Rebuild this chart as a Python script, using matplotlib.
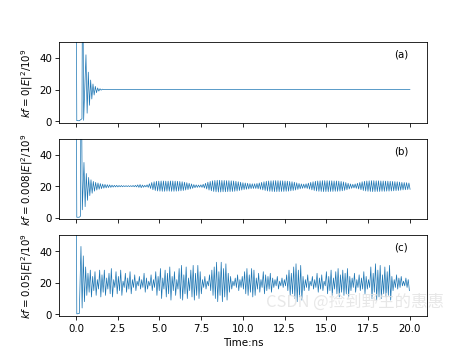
import numpy as np
import matplotlib
matplotlib.use("Agg")
import matplotlib.pyplot as plt

# ---- panel (a): kf = 0, relaxation oscillation that settles to 20
t_a = [0, 0.05, 0.2, 0.36, 0.40, 0.46, 0.60, 0.67, 0.74, 0.81, 0.88, 0.95, 1.02,
       1.09, 1.16, 1.23, 1.30, 1.37, 1.44, 1.51, 1.58, 1.65, 20]
y_a = [150, 0.3, 0.2, 1.5, 120, 0.5, 42, 5, 31, 10, 26, 14, 23.5,
       16.5, 22, 18, 21, 19, 20.5, 19.6, 20.2, 20, 20]

# ---- panel (b): kf = 0.008
b_head_t = [0, 0.05, 0.2, 0.27, 0.31, 0.38]
b_head_y = [150, 0.3, 0.3, 1, 120, 5]
b_start = 0.48          # first peak after the spike
b_period = 0.14
b_peaks = [35, 28, 25.5, 24, 23, 22.4, 22, 21.6, 21.3, 21.1,
           20.9, 20.8, 20.6, 20.5, 20.5, 20.4, 20.4, 20.3, 20.3, 20.3,
           20.3, 20.4, 20.5, 20.8, 21.0, 20.7, 20.5, 20.8, 21.5, 22.3,
           22.8, 23.1, 23.2, 23.3, 23.3, 23.2, 23.2, 23.3, 23.3, 23.2,
           23.1, 23.0, 22.8, 22.5, 22.2, 21.8, 21.4, 21.0, 20.8, 20.7,
           20.8, 21.2, 21.8, 22.5, 23.0, 23.4, 23.6, 23.7, 23.7, 23.6,
           23.6, 23.5, 23.5, 23.4, 23.3, 23.1, 22.8, 22.5, 22.2, 22.0,
           21.8, 21.6, 21.5, 21.5, 21.7, 22.0, 22.4, 22.8, 23.1, 23.3,
           23.4, 23.5, 23.5, 23.5, 23.4, 23.4, 23.3, 23.2, 23.0, 22.8,
           22.5, 22.1, 21.7, 21.4, 21.3, 21.5, 21.9, 22.4, 22.8, 23.1,
           23.3, 23.4, 23.5, 23.5, 23.5, 23.4, 23.4, 23.3, 23.3, 23.2,
           23.0, 22.7, 22.3, 21.8, 21.4, 21.2, 21.4, 21.8, 22.3, 22.8,
           23.1, 23.3, 23.4, 23.5, 23.5, 23.4, 23.4, 23.3, 23.3, 23.2,
           23.2, 23.1, 23.0, 22.9, 22.8, 22.6, 22.4, 22.3, 22.2, 22.0]
b_troughs = [7, 11, 14, 15.5, 16.8, 17.5, 18, 18.4, 18.7, 18.9,
             19.1, 19.2, 19.4, 19.5, 19.5, 19.6, 19.6, 19.7, 19.7, 19.7,
             19.7, 19.6, 19.5, 19.2, 19.0, 19.3, 19.5, 19.2, 18.5, 17.7,
             17.2, 16.9, 16.8, 16.7, 16.7, 16.8, 16.8, 16.7, 16.7, 16.8,
             16.9, 17.0, 17.2, 17.5, 17.8, 18.2, 18.6, 19.0, 19.2, 19.3,
             19.2, 18.8, 18.2, 17.5, 17.0, 16.6, 16.4, 16.3, 16.3, 16.4,
             16.4, 16.5, 16.5, 16.6, 16.7, 16.9, 17.2, 17.5, 17.8, 18.0,
             18.2, 18.4, 18.5, 18.5, 18.3, 18.0, 17.6, 17.2, 16.9, 16.7,
             16.6, 16.5, 16.5, 16.5, 16.6, 16.6, 16.7, 16.8, 17.0, 17.2,
             17.5, 17.9, 18.3, 18.6, 18.7, 18.5, 18.1, 17.6, 17.2, 16.9,
             16.7, 16.6, 16.5, 16.5, 16.5, 16.6, 16.6, 16.7, 16.7, 16.8,
             17.0, 17.3, 17.7, 18.2, 18.6, 18.8, 18.6, 18.2, 17.7, 17.2,
             16.9, 16.7, 16.6, 16.5, 16.5, 16.6, 16.6, 16.7, 16.7, 16.8,
             16.8, 16.9, 17.0, 17.1, 17.2, 17.4, 17.6, 17.7, 17.8, 18.0]

# ---- panel (c): kf = 0.05, irregular oscillation
c_head_t = [0, 0.05, 0.2]
c_head_y = [150, 0.3, 0.5]
c_start = 0.30
c_period = 0.14
c_peaks = [43, 37, 30, 26, 28, 24, 27, 22, 28, 25,
           28, 23, 26, 29, 22, 27, 24, 28, 21, 26,
           23, 27, 22, 25, 21, 24, 22, 26, 23, 21,
           25, 22, 27, 24, 29, 23, 28, 26, 30, 24,
           27, 22, 29, 31, 25, 30, 23, 28, 31, 26,
           31, 27, 22, 24, 21, 25, 28, 30, 33, 27,
           33, 29, 32, 26, 24, 21, 23, 25, 22, 24,
           27, 29, 25, 29, 28, 23, 26, 22, 27, 25,
           24, 26, 23, 22, 24, 21, 23, 22, 25, 28,
           26, 30, 32, 28, 31, 24, 22, 25, 21, 24,
           22, 26, 23, 25, 21, 27, 24, 28, 23, 27,
           29, 25, 28, 26, 29, 24, 23, 26, 22, 25,
           23, 27, 24, 22, 30, 26, 32, 28, 31, 25,
           30, 27, 31, 24, 22, 25, 23, 24, 21, 23, 22]
c_troughs = [4, 8, 12, 14, 11, 15, 12, 16, 11, 14,
             12, 16, 13, 11, 17, 13, 15, 12, 17, 14,
             16, 13, 17, 15, 18, 16, 17, 14, 16, 18,
             15, 17, 12, 15, 10, 16, 11, 13, 9, 15,
             12, 16, 10, 9, 13, 10, 15, 11, 9, 12,
             10, 13, 17, 16, 18, 15, 12, 10, 8, 12,
             8, 11, 9, 14, 16, 18, 17, 15, 17, 16,
             13, 12, 14, 11, 12, 16, 14, 17, 13, 15,
             16, 14, 17, 18, 16, 18, 17, 18, 15, 12,
             13, 10, 8, 11, 9, 15, 17, 15, 18, 16,
             17, 14, 16, 15, 18, 13, 15, 12, 16, 13,
             11, 14, 12, 13, 11, 15, 17, 14, 17, 15,
             16, 13, 16, 17, 10, 14, 9, 11, 10, 13,
             11, 12, 9, 15, 17, 16, 17, 18, 18, 17, 15]

ylabels = [r'$kf=0|E|^2/10^9$', r'$kf=0.008|E|^2/10^9$', r'$kf=0.05|E|^2/10^9$']
tags = ['(a)', '(b)', '(c)']


def build(head_t, head_y, start, period, peaks, troughs):
    # peaks and troughs alternate, half a period apart
    vals = []
    for p, q in zip(peaks, troughs):
        vals += [p, q]
    tt = start + period / 2 * np.arange(len(vals))
    return np.r_[head_t, tt], np.r_[head_y, vals]


tb, yb = build(b_head_t, b_head_y, b_start, b_period, b_peaks, b_troughs)
tc, yc = build(c_head_t, c_head_y, c_start, c_period, c_peaks, c_troughs)
series = [(t_a, y_a), (tb, yb), (tc, yc)]

fig, axes = plt.subplots(3, 1, sharex=True, figsize=(6.4, 4.8), dpi=474 / 6.4)
for ax, (t, y), lab, tag in zip(axes, series, ylabels, tags):
    ax.plot(t, y, color='C0', linewidth=0.7)
    ax.set_ylim(-1, 50)
    ax.set_xlim(-1, 21)
    ax.set_ylabel(lab)
    ax.text(0.93, 0.85, tag, transform=ax.transAxes, ha='center', va='center')

axes[-1].set_xlabel('Time:ns')
axes[-1].set_xticks([0, 2.5, 5, 7.5, 10, 12.5, 15, 17.5, 20])

# faint watermark of the source page
fig.text(0.749, 0.149, 'CSDN @捡到野生的惠惠', fontsize=16, color='#e2e2e2',
         ha='center', va='center', alpha=0.8,
         family=['Noto Sans CJK SC', 'DejaVu Sans'])

plt.savefig('out.png')
